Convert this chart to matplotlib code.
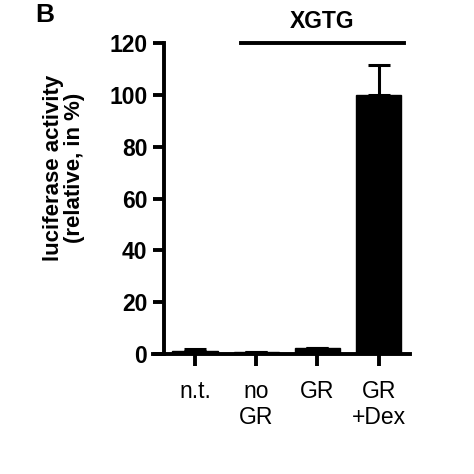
import numpy as np
from matplotlib import pyplot as plt

plt.rcParams['font.family'] = ['Liberation Sans', 'DejaVu Sans']

labels = ['n.t.', 'no\nGR', 'GR', 'GR\n+Dex']
values = [1.3, 0.7, 2.2, 100.0]
errors = [0.5, 0.2, 0.3, 11.5]
y_ticks = [0, 20, 40, 60, 80, 100, 120]

W = 474
fig = plt.figure(figsize=(4.74, 4.74), dpi=100)
# axes box in pixels: x 153..410, y 43..354
ax = fig.add_axes([153 / W, (W - 354) / W, (410 - 153) / W, (354 - 43) / W])

for s in ['top', 'right']:
    ax.spines[s].set_visible(False)
# set before tick labels, set_position resets ticks
ax.spines['left'].set_position(('data', -0.506))
ax.spines['left'].set_linewidth(2.8)
ax.spines['bottom'].set_linewidth(2.8)

x = np.arange(len(labels))
ax.bar(x, values, width=0.74, color='black', edgecolor='black', zorder=3)
ax.errorbar(x, values, yerr=[np.zeros(len(errors)), errors], fmt='none',
            ecolor='black', elinewidth=2.2, capsize=8, capthick=2.2, zorder=2)

ax.set_xlim(-0.685, 3.51)
ax.set_ylim(0, 120)
ax.set_xticks(x)
ax.set_xticklabels(labels, fontsize=16.5, linespacing=1.2)
ax.set_yticks(y_ticks)
ax.set_yticklabels([str(t) for t in y_ticks], fontsize=16.5, fontweight='bold')

ax.tick_params(axis='y', length=8, width=2.8, pad=4)
ax.tick_params(axis='x', length=8.5, width=2.8, pad=10)
for t in ax.get_xticklabels():
    t.set_verticalalignment('top')

fig.text(64 / W, 1 - 168 / W, 'luciferase activity\n(relative, in %)', rotation=90,
         ha='center', va='center', fontsize=16, fontweight='bold',
         multialignment='center', linespacing=1.05)

# XGTG bar
ax.plot([241 / W, 404 / W], [1 - 43 / W, 1 - 43 / W], transform=fig.transFigure,
        color='black', lw=2.8, clip_on=False)
fig.text(322 / W, 1 - 22 / W, 'XGTG', ha='center', va='center',
         fontsize=16.5, fontweight='bold')
fig.text(45 / W, 1 - 15 / W, 'B', ha='center', va='center',
         fontsize=19, fontweight='bold')

fig.savefig('out.png', dpi=100)
